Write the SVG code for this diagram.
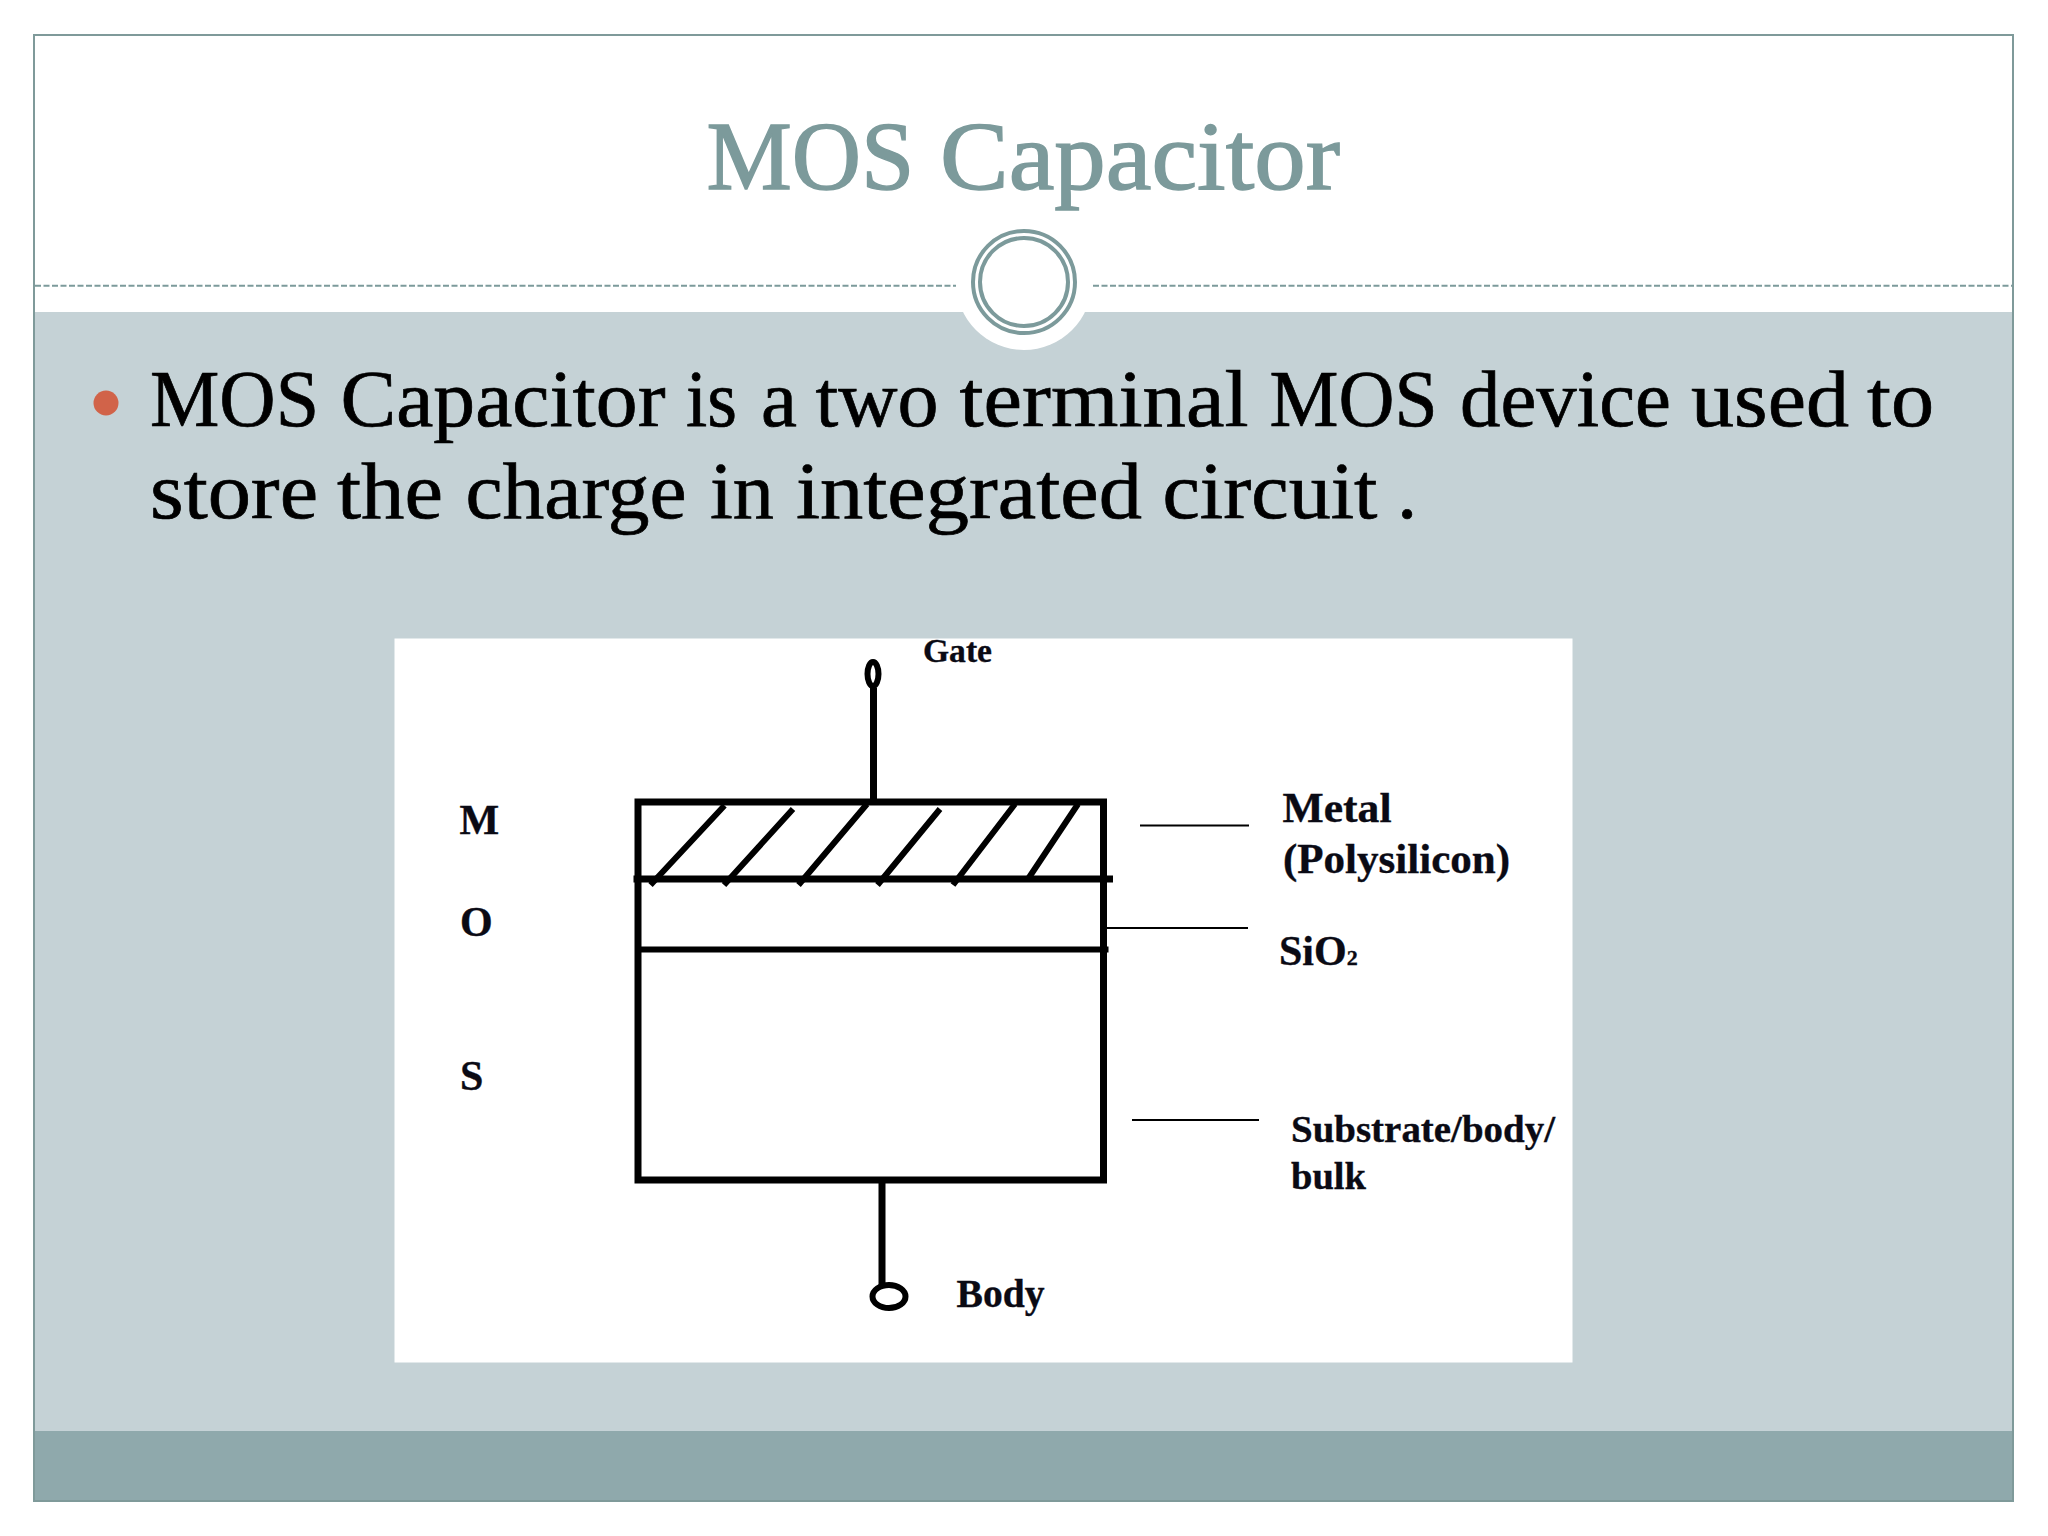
<svg xmlns="http://www.w3.org/2000/svg" width="2048" height="1536" viewBox="0 0 2048 1536">
<style>
.t{font-family:"Liberation Serif","Times New Roman",serif}
.lbl{font-family:"Liberation Serif","Times New Roman",serif;font-weight:700;fill:#0a0a14;stroke:#0a0a14;stroke-width:.35}
.body{font-size:81px;fill:#000;stroke:#000;stroke-width:.7}
.ink{fill:none;stroke:#000;stroke-width:7}
.hatch{fill:none;stroke:#000;stroke-width:6}
.lead{fill:none;stroke:#000;stroke-width:2.200}
</style>
<rect width="2048" height="1536" fill="#fff"/>
<g id="slide-background">
<rect x="34" y="312" width="1979" height="1119" fill="#c5d2d6"/>
<rect x="34" y="1431" width="1979" height="70" fill="#8fa9ac"/>
<rect x="34" y="35" width="1979" height="1466" fill="none" stroke="#7f9a9a" stroke-width="2"/>
</g>
<g id="title-rule">
<path d="M35 285.700H956M1093 285.700H2012" fill="none" stroke="#7c9a9b" stroke-width="2" stroke-dasharray="6 2.500"/>
<circle cx="1024" cy="282" r="68" fill="#fff"/>
<circle cx="1024" cy="282" r="51" fill="#fff" stroke="#7c9a9b" stroke-width="4"/>
<circle cx="1024" cy="282" r="44" fill="#fff" stroke="#7c9a9b" stroke-width="4"/>
</g>
<text id="title" class="t" y="188.500" font-size="98" fill="#7c9a9b" stroke="#7c9a9b" stroke-width="1.400"><tspan x="706.500" textLength="208" lengthAdjust="spacingAndGlyphs">MOS</tspan> <tspan x="940" textLength="400" lengthAdjust="spacingAndGlyphs">Capacitor</tspan></text>
<g id="bullet-text">
<circle cx="106" cy="403" r="12.500" fill="#d16349"/>
<text class="t body" y="426"><tspan x="150" textLength="169" lengthAdjust="spacingAndGlyphs">MOS</tspan> <tspan x="340.500" textLength="325" lengthAdjust="spacingAndGlyphs">Capacitor</tspan> <tspan x="686" textLength="51" lengthAdjust="spacingAndGlyphs">is</tspan> <tspan x="761" textLength="36" lengthAdjust="spacingAndGlyphs">a</tspan> <tspan x="815.500" textLength="123" lengthAdjust="spacingAndGlyphs">two</tspan> <tspan x="959.500" textLength="289" lengthAdjust="spacingAndGlyphs">terminal</tspan> <tspan x="1269.500" textLength="168" lengthAdjust="spacingAndGlyphs">MOS</tspan> <tspan x="1460" textLength="211" lengthAdjust="spacingAndGlyphs">device</tspan> <tspan x="1691" textLength="158" lengthAdjust="spacingAndGlyphs">used</tspan> <tspan x="1867" textLength="67" lengthAdjust="spacingAndGlyphs">to</tspan></text>
<text class="t body" y="518"><tspan x="150" textLength="168" lengthAdjust="spacingAndGlyphs">store</tspan> <tspan x="337" textLength="106" lengthAdjust="spacingAndGlyphs">the</tspan> <tspan x="465.500" textLength="221" lengthAdjust="spacingAndGlyphs">charge</tspan> <tspan x="710" textLength="64" lengthAdjust="spacingAndGlyphs">in</tspan> <tspan x="796" textLength="346" lengthAdjust="spacingAndGlyphs">integrated</tspan> <tspan x="1162.500" textLength="215" lengthAdjust="spacingAndGlyphs">circuit</tspan> <tspan x="1397">.</tspan></text>
</g>
<rect id="figure-panel" x="394.500" y="638.500" width="1178" height="724" fill="#fff"/>
<g id="mos-stack">
<rect class="ink" x="638" y="802" width="465.500" height="378"/>
<g id="metal-layer">
<path class="ink" d="M633.500 879H1113"/>
<path class="hatch" d="M650.500 885L724.500 805.500M724 885L793 809M798.500 885L867 804M877.500 885L940 809M953 885L1015 804M1028 879L1078 804"/>
</g>
<g id="oxide-layer"><path class="ink" style="stroke-width:6" d="M641 949.500H1108.500"/></g>
</g>
<g id="gate-terminal"><ellipse cx="873" cy="674" rx="5.500" ry="12" fill="#fff" stroke="#000" stroke-width="6"/><text class="lbl" x="923" y="662" font-size="33" textLength="69" lengthAdjust="spacingAndGlyphs">Gate</text></g>
<g id="body-terminal"><ellipse cx="889" cy="1296.500" rx="16.500" ry="11.500" fill="#fff" stroke="#000" stroke-width="6"/><text class="lbl" x="956.500" y="1306.500" font-size="39" textLength="88" lengthAdjust="spacingAndGlyphs">Body</text></g>
<g id="connectors">
<path class="ink" d="M873.500 688V802M882 1183V1285"/>
<path class="lead" d="M1140 825.500H1249M1106 928H1248M1132 1120H1259"/>
</g>
<g id="mos-labels">
<text class="lbl" x="459.500" y="833.500" font-size="42">M</text>
<text class="lbl" x="460" y="935.500" font-size="42">O</text>
<text class="lbl" x="460" y="1090" font-size="42">S</text>
</g>
<g id="layer-labels">
<text class="lbl" x="1282.500" y="821.500" font-size="43" textLength="109" lengthAdjust="spacingAndGlyphs">Metal</text>
<text class="lbl" x="1283" y="873" font-size="42" textLength="227" lengthAdjust="spacingAndGlyphs">(Polysilicon)</text>
<text class="lbl" x="1279" y="965" font-size="42">SiO<tspan font-size="22">2</tspan></text>
<text class="lbl" x="1291" y="1142" font-size="38" textLength="264" lengthAdjust="spacingAndGlyphs">Substrate/body/</text>
<text class="lbl" x="1291" y="1189" font-size="38" textLength="75" lengthAdjust="spacingAndGlyphs">bulk</text>
</g>
</svg>
